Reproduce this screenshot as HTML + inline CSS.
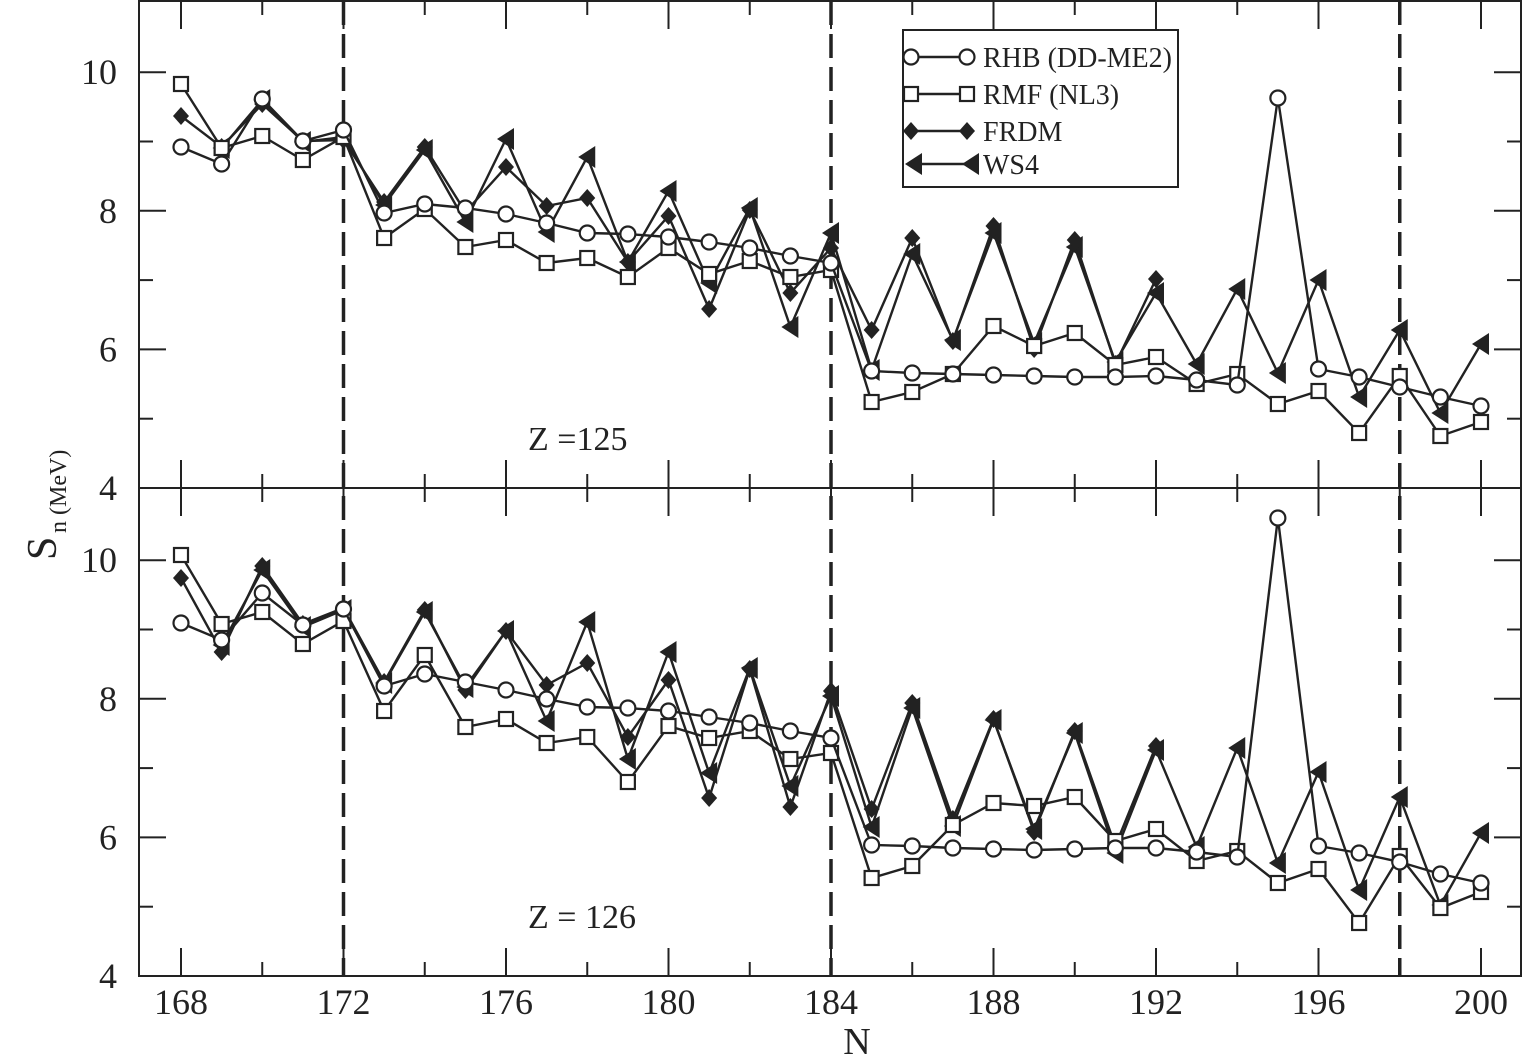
<!DOCTYPE html>
<html><head><meta charset="utf-8"><style>
body{margin:0;background:#fff}
svg{display:block}
text{font-family:"Liberation Serif",serif;fill:#222}
</style></head><body>
<svg id="s" width="1523" height="1056" xmlns="http://www.w3.org/2000/svg"></svg>
<script>
const s=document.getElementById('s');let h='';
const X=n=>181+(n-168)*40.625;
const L=139,R=1521;
h+=`<rect x="${L}" y="1" width="${R-L}" height="975" fill="none" stroke="#222" stroke-width="2"/>`;
h+=`<line x1="${L}" y1="488" x2="${R}" y2="488" stroke="#222" stroke-width="2"/>`;
for(const [top,bot] of [[1,488],[488,976]]){
 for(let n=168;n<=200;n+=2){const len=(n%4==0)?28:14;const x=X(n);
  h+=`<line x1="${x}" y1="${bot}" x2="${x}" y2="${bot-len}" stroke="#222" stroke-width="2"/>`;
  h+=`<line x1="${x}" y1="${top}" x2="${x}" y2="${top+len}" stroke="#222" stroke-width="2"/>`;}
 for(let v=5;v<=10;v++){const y=bot-(v-4)*69.3;const len=(v%2==0)?27:14;
  h+=`<line x1="${L}" y1="${y}" x2="${L+len}" y2="${y}" stroke="#222" stroke-width="2"/>`;
  h+=`<line x1="${R}" y1="${y}" x2="${R-len}" y2="${y}" stroke="#222" stroke-width="2"/>`;
  if(v%2==0) h+=`<text x="117" y="${y+12}" font-size="36" text-anchor="end">${v}</text>`;}
 h+=`<text x="117" y="${bot+12}" font-size="36" text-anchor="end">4</text>`;
}
for(let n=168;n<=200;n+=4) h+=`<text x="${X(n)}" y="1014" font-size="36" text-anchor="middle">${n}</text>`;
h+=`<text x="857" y="1054" font-size="38" text-anchor="middle">N</text>`;
h+=`<g transform="translate(56,488) rotate(-90)"><text x="-72" y="0" font-size="42">S</text><text x="-45" y="10" font-size="24">n (MeV)</text></g>`;
h+=`<text x="528" y="450" font-size="34">Z =125</text>`;
h+=`<text x="528" y="928" font-size="34">Z = 126</text>`;
for(const n of [172,184,198]) h+=`<line x1="${X(n)}" y1="1" x2="${X(n)}" y2="976" stroke="#222" stroke-width="3.5" stroke-dasharray="24,9"/>`;
const mk={
 c:(x,y)=>`<circle cx="${x}" cy="${y}" r="7.5" fill="#fff" stroke="#222" stroke-width="2.2"/>`,
 s:(x,y)=>`<rect x="${x-7}" y="${y-7}" width="14" height="14" fill="#fff" stroke="#222" stroke-width="2.2"/>`,
 d:(x,y)=>`<polygon points="${x},${y-9} ${x+8},${y} ${x},${y+9} ${x-8},${y}" fill="#222"/>`,
 t:(x,y)=>`<polygon points="${x-9},${y} ${x+8},${y-11} ${x+8},${y+11}" fill="#222"/>`
};
function ser(start,ys,m){let pts=ys.map((y,i)=>[X(start+i),y]);
 h+=`<polyline points="${pts.map(p=>p.join(',')).join(' ')}" fill="none" stroke="#222" stroke-width="2.4"/>`;
 pts.forEach(p=>h+=mk[m](p[0],p[1]));}
ser(169,[148,100,142,137,205,150,222,139,232,157,262,191,283,208,327,233,370,254,340,233,343,247,362,293,364,289,373,280,397,330,413,344],'t');
ser(168,[116,147,104,141,140,202,147,212,167,206,198,262,216,309,210,293,248,330,238,341,226,349,240,364,279],'d');
ser(168,[84,148,136,160,137,238,209,247,240,263,258,277,248,274,261,277,270,402,392,374,326,346,333,365,357,384,374,404,391,433,376,436,422],'s');
ser(168,[147,164,99,141,130,213,204,208,214,223,233,234,237,242,248,256,263,371,373,374,375,376,377,377,376,380,385,98,369,377,387,397,406],'c');
ser(169,[645,570,627,610,683,612,687,631,721,622,759,652,773,668,786,696,827,708,826,720,829,733,853,750,847,748,863,772,890,797,905,833],'t');
ser(168,[578,652,566,624,608,682,610,690,631,685,663,737,680,798,669,807,691,809,703,819,719,832,731,846,746],'d');
ser(168,[555,624,612,644,621,711,655,727,719,743,737,782,726,738,731,759,753,878,866,825,803,806,797,841,829,861,851,883,869,923,856,908,892],'s');
ser(168,[623,640,593,625,609,686,674,682,690,699,707,708,711,717,723,731,738,845,846,848,849,850,849,848,848,852,857,518,846,853,862,874,883],'c');
h+=`<rect x="903" y="30" width="275" height="157" fill="#fff" stroke="#222" stroke-width="2"/>`;
const lg=[['c','RHB (DD-ME2)',57],['s','RMF (NL3)',94],['d','FRDM',131],['t','WS4',164]];
for(const [m,t,y] of lg){h+=`<line x1="911" y1="${y}" x2="968" y2="${y}" stroke="#222" stroke-width="2.4"/>`;
 h+=mk[m](m=='t'?914:911,y)+mk[m](m=='t'?971:967,y);
 h+=`<text x="983" y="${y+10}" font-size="28">${t}</text>`;}
s.innerHTML=h;
</script>
</body></html>
